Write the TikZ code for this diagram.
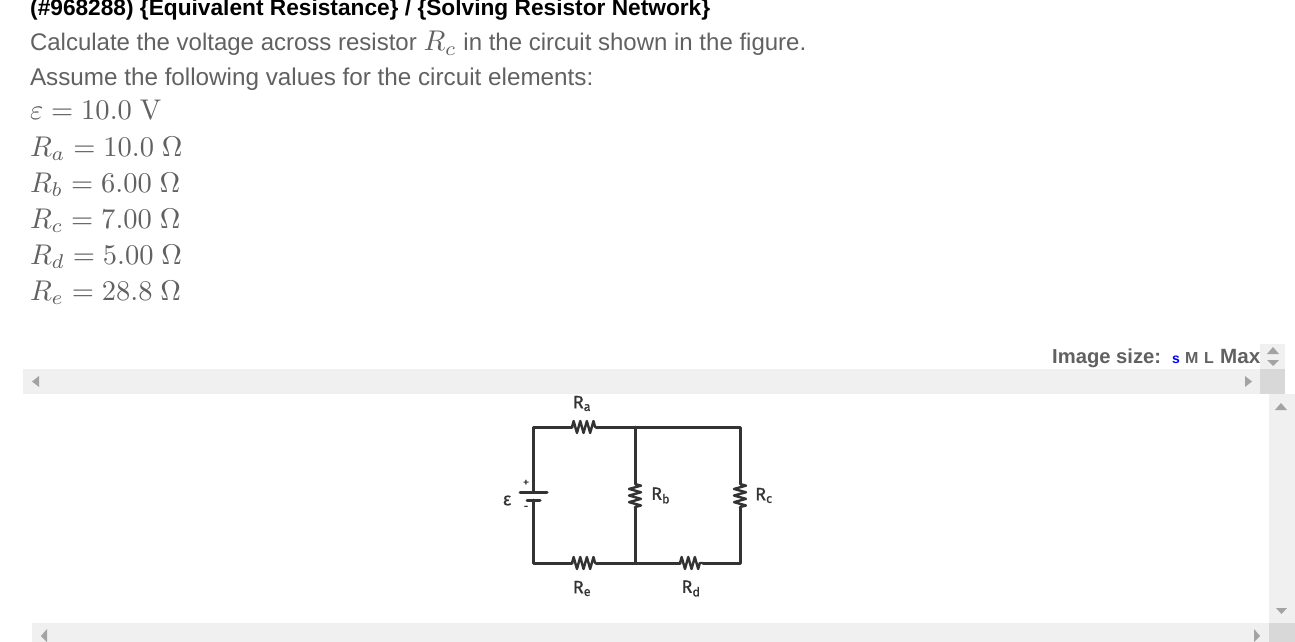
\documentclass[tikz,border=0pt]{standalone}
\usepackage[no-math]{fontspec}
\setmainfont{Liberation Sans}
\newfontfamily\labelfont[FakeBold=0.8]{Fira Sans}
\usetikzlibrary{decorations.pathmorphing}
\definecolor{bodygray}{HTML}{616161}
\definecolor{barfill}{HTML}{F0F0F0}
\definecolor{cornerfill}{HTML}{D8D8D8}
\definecolor{arrowgray}{HTML}{A3A3A3}
\definecolor{wirecol}{HTML}{333333}
\newcommand{\bigmath}[1]{\scalebox{2.85}{\fontsize{10}{12}\selectfont\(#1\)}}
\tikzset{
  x=1pt,y=-1pt,
  txt/.style={anchor=base west,inner sep=0pt,outer sep=0pt,text=bodygray,font=\fontsize{24.25}{28}\selectfont},
  mth/.style={anchor=base west,inner sep=0pt,outer sep=0pt,text=bodygray},
  ttl/.style={anchor=base west,inner sep=0pt,text=black,font=\fontsize{22.7}{26}\selectfont\bfseries},
  sz/.style={anchor=base west,inner sep=0pt,text=bodygray,font=\fontsize{#1}{24}\selectfont\bfseries},
  wire/.style={draw=wirecol,line width=3pt,line cap=round,line join=round},
  res/.style={draw=wirecol,line width=2.4pt,line join=round,decorate,decoration={zigzag,segment length=6.6pt,amplitude=6pt}},
  clab/.style={inner sep=0pt,text=wirecol,font=\labelfont\fontsize{18}{20}\selectfont},
  bar/.style={fill=barfill,draw=none},
  corner/.style={fill=cornerfill,draw=none},
  tri/.style={fill=arrowgray,draw=none}
}
\begin{document}
\begin{tikzpicture}
\useasboundingbox[fill=white] (0,0) rectangle (1295,642);
% scrollbars
\fill[bar] (23,369) rectangle (1285,394);
\fill[bar] (1260,344) rectangle (1285,369);
\fill[corner] (1260,369) rectangle (1285,394);
\fill[bar] (1269,394) rectangle (1295,623);
\fill[bar] (32,623) rectangle (1269,642);
\fill[corner] (1269,623) rectangle (1295,642);
\fill[tri] (1267,354) -- (1273,347) -- (1279,354) -- cycle;
\fill[tri] (1267,360) -- (1279,360) -- (1273,366) -- cycle;
\fill[tri] (39,376) -- (39,387) -- (32,381.5) -- cycle;
\fill[tri] (1245,376) -- (1245,387) -- (1252,381.5) -- cycle;
\fill[tri] (1275,410) -- (1287,410) -- (1281,403) -- cycle;
\fill[tri] (1276,608) -- (1287,608) -- (1281.5,614) -- cycle;
\fill[tri] (47,629) -- (47,642) -- (41,636) -- cycle;
\fill[tri] (1254,629) -- (1254,642) -- (1260,636) -- cycle;
% text
\node[ttl] (title) at (30,16) {(\#968288) \{Equivalent Resistance\} / \{Solving Resistor Network\}};
\node[txt,font=\fontsize{24}{28}\selectfont] (q1) at (30,51) {Calculate the voltage across resistor \bigmath{R_c} in the circuit shown in the figure.};
\node[txt] (q2) at (30,85) {Assume the following values for the circuit elements:};
\node[mth] (v0) at (30,119) {\bigmath{\varepsilon = 10.0\ \mathrm{V}}};
\node[mth] (v1) at (30,156) {\bigmath{R_a = 10.0\ \Omega}};
\node[mth] (v2) at (30,192) {\bigmath{R_b = 6.00\ \Omega}};
\node[mth] (v3) at (30,228) {\bigmath{R_c = 7.00\ \Omega}};
\node[mth] (v4) at (30,264) {\bigmath{R_d = 5.00\ \Omega}};
\node[mth] (v5) at (30,300) {\bigmath{R_e = 28.8\ \Omega}};
\node[sz=20.2] (imgsize) at (1052,363.5) {Image size:};
\node[sz=14,text=blue] (sS) at (1172,363.5) {s};
\node[sz=16] (sM) at (1185,363.5) {M};
\node[sz=16] (sL) at (1204,363.5) {L};
\node[sz=20.6] (sMax) at (1220,363.5) {Max};
% circuit nodes
\coordinate (TL) at (533,427);
\coordinate (TM) at (635,427);
\coordinate (TR) at (740,427);
\coordinate (BL) at (533,563);
\coordinate (BM) at (635,563);
\coordinate (BR) at (740,563);
\coordinate (BatTop) at (533,492);
\coordinate (BatBot) at (533,500);
\coordinate (PlusL) at (520,492);
\coordinate (PlusR) at (547,492);
\coordinate (MinusL) at (527,500);
\coordinate (MinusR) at (540,500);
\coordinate (RaL) at (572,427);
\coordinate (RaR) at (596,427);
\coordinate (ReL) at (572,563);
\coordinate (ReR) at (596,563);
\coordinate (RdL) at (680,563);
\coordinate (RdR) at (703,563);
\coordinate (RbT) at (635,484);
\coordinate (RbB) at (635,508);
\coordinate (RcT) at (740,484);
\coordinate (RcB) at (740,508);
% wires
\draw[wire] (BatTop) -- (TL) -- (RaL);
\draw[wire] (RaR) -- (TM) -- (TR) -- (RcT);
\draw[wire] (TM) -- (RbT);
\draw[wire] (RbB) -- (BM);
\draw[wire] (RcB) -- (BR) -- (RdR);
\draw[wire] (RdL) -- (BM) -- (ReR);
\draw[wire] (ReL) -- (BL) -- (BatBot);
\draw[wire] (PlusL) -- (PlusR);
\draw[wire] (MinusL) -- (MinusR);
% resistors
\draw[res] (RaL) -- (RaR);
\draw[res] (ReL) -- (ReR);
\draw[res] (RdL) -- (RdR);
\draw[res] (RbT) -- (RbB);
\draw[res] (RcT) -- (RcB);
% labels
\node[clab] (lRa) at (582,403.5) {R\textsubscript{a}};
\node[clab] (lRe) at (582,588.5) {R\textsubscript{e}};
\node[clab] (lRd) at (691,588.5) {R\textsubscript{d}};
\node[clab,anchor=west] (lRb) at (651,495.5) {R\textsubscript{b}};
\node[clab,anchor=west] (lRc) at (755,495.5) {R\textsubscript{c}};
\node[clab] (lE) at (507,500.5) {ε};
\node[clab,font=\labelfont\fontsize{12}{12}\selectfont] (lPlus) at (526,483) {+};
\node[clab,font=\labelfont\fontsize{12}{12}\selectfont] (lMinus) at (526,508) {-};
\end{tikzpicture}
\end{document}
